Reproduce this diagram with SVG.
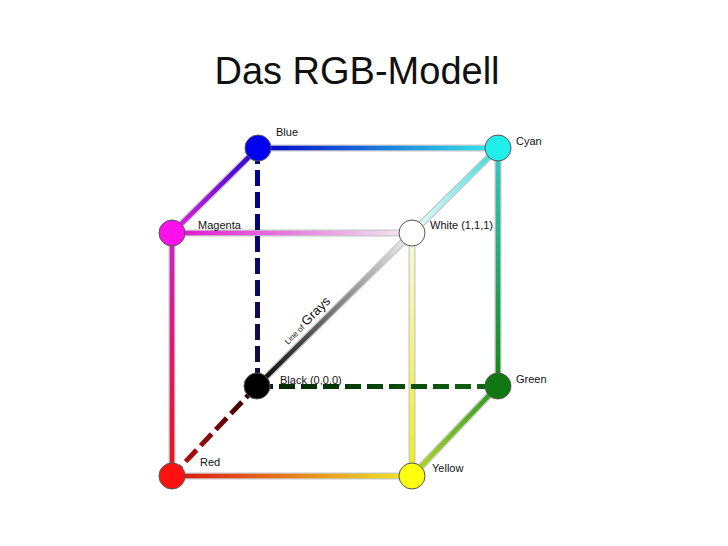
<svg xmlns="http://www.w3.org/2000/svg" width="728" height="546" viewBox="0 0 728 546">
<style>
text{font-family:"Liberation Sans",Arial,sans-serif;fill:#111}
.lb{font-size:11px}
.o{stroke:#c8c8c8;stroke-width:7;fill:none}
.e{stroke-width:4.5;fill:none}
.d{stroke-width:5;fill:none;stroke-dasharray:16,6}
.n{stroke:#555;stroke-width:1}
</style>
<defs>
<linearGradient id="gBC" gradientUnits="userSpaceOnUse" x1="258" y1="0" x2="498" y2="0"><stop offset="0" stop-color="#0000cc"/><stop offset="1" stop-color="#33eeee"/></linearGradient>
<linearGradient id="gMB" gradientUnits="userSpaceOnUse" x1="172" y1="233" x2="258" y2="148"><stop offset="0" stop-color="#ee22dd"/><stop offset="1" stop-color="#2200dd"/></linearGradient>
<linearGradient id="gMW" gradientUnits="userSpaceOnUse" x1="172" y1="0" x2="412" y2="0"><stop offset="0" stop-color="#dd11cc"/><stop offset="1" stop-color="#f4eef4"/></linearGradient>
<linearGradient id="gWC" gradientUnits="userSpaceOnUse" x1="412" y1="233" x2="498" y2="148"><stop offset="0" stop-color="#f0ffff"/><stop offset="1" stop-color="#33dddd"/></linearGradient>
<linearGradient id="gCG" gradientUnits="userSpaceOnUse" x1="0" y1="148" x2="0" y2="386"><stop offset="0" stop-color="#33cccc"/><stop offset="1" stop-color="#118811"/></linearGradient>
<linearGradient id="gMR" gradientUnits="userSpaceOnUse" x1="0" y1="233" x2="0" y2="476"><stop offset="0" stop-color="#cc22cc"/><stop offset="1" stop-color="#ee1111"/></linearGradient>
<linearGradient id="gRY" gradientUnits="userSpaceOnUse" x1="172" y1="0" x2="412" y2="0"><stop offset="0" stop-color="#dd1111"/><stop offset="1" stop-color="#eeee22"/></linearGradient>
<linearGradient id="gWY" gradientUnits="userSpaceOnUse" x1="0" y1="233" x2="0" y2="476"><stop offset="0" stop-color="#f8f8e0"/><stop offset="1" stop-color="#eeee11"/></linearGradient>
<linearGradient id="gYG" gradientUnits="userSpaceOnUse" x1="412" y1="476" x2="498" y2="386"><stop offset="0" stop-color="#bbdd22"/><stop offset="1" stop-color="#229922"/></linearGradient>
<linearGradient id="gKW" gradientUnits="userSpaceOnUse" x1="257" y1="386" x2="412" y2="233"><stop offset="0" stop-color="#000"/><stop offset="1" stop-color="#f4f4f4"/></linearGradient>
<linearGradient id="gBK" gradientUnits="userSpaceOnUse" x1="0" y1="148" x2="0" y2="386"><stop offset="0" stop-color="#000099"/><stop offset="1" stop-color="#111133"/></linearGradient>
<linearGradient id="gKG" gradientUnits="userSpaceOnUse" x1="257" y1="0" x2="498" y2="0"><stop offset="0" stop-color="#002200"/><stop offset="1" stop-color="#116611"/></linearGradient>
<linearGradient id="gKR" gradientUnits="userSpaceOnUse" x1="257" y1="386" x2="172" y2="476"><stop offset="0" stop-color="#220000"/><stop offset="1" stop-color="#cc1111"/></linearGradient>
</defs>
<rect width="728" height="546" fill="#fff"/>
<text x="357" y="84" text-anchor="middle" style="font-size:38px">Das RGB-Modell</text>
<g id="connectors">
<line class="o" x1="258" y1="148" x2="498" y2="148"/><line class="e" stroke="url(#gBC)" x1="258" y1="148" x2="498" y2="148"/>
<line class="o" x1="172" y1="233" x2="258" y2="148"/><line class="e" stroke="url(#gMB)" x1="172" y1="233" x2="258" y2="148"/>
<line class="o" x1="172" y1="233" x2="412" y2="233"/><line class="e" stroke="url(#gMW)" x1="172" y1="233" x2="412" y2="233"/>
<line class="o" x1="412" y1="233" x2="498" y2="148"/><line class="e" stroke="url(#gWC)" x1="412" y1="233" x2="498" y2="148"/>
<line class="o" x1="498" y1="148" x2="498" y2="386"/><line class="e" stroke="url(#gCG)" x1="498" y1="148" x2="498" y2="386"/>
<line class="o" x1="172" y1="233" x2="172" y2="476"/><line class="e" stroke="url(#gMR)" x1="172" y1="233" x2="172" y2="476"/>
<line class="o" x1="172" y1="476" x2="412" y2="476"/><line class="e" stroke="url(#gRY)" x1="172" y1="476" x2="412" y2="476"/>
<line class="o" x1="412" y1="233" x2="412" y2="476"/><line class="e" stroke="url(#gWY)" x1="412" y1="233" x2="412" y2="476"/>
<line class="o" x1="412" y1="476" x2="498" y2="386"/><line class="e" stroke="url(#gYG)" x1="412" y1="476" x2="498" y2="386"/>
<line class="o" x1="257" y1="386" x2="412" y2="233"/><line class="e" stroke="url(#gKW)" x1="257" y1="386" x2="412" y2="233"/>
<line class="d" stroke="url(#gBK)" x1="257.5" y1="148" x2="257.5" y2="386"/>
<line class="d" stroke="url(#gKG)" x1="257" y1="386.5" x2="498" y2="386.5"/>
<line class="d" stroke="url(#gKR)" x1="257" y1="386" x2="172" y2="476"/>
</g>
<g id="n-blue"><circle class="n" cx="258" cy="148" r="13" fill="#0000ee"/><text class="lb" x="276" y="136">Blue</text></g>
<g id="n-cyan"><circle class="n" cx="498" cy="148" r="13" fill="#22eeee"/><text class="lb" x="516" y="145">Cyan</text></g>
<g id="n-magenta"><circle class="n" cx="172" cy="233" r="13" fill="#ff11ee"/><text class="lb" x="198" y="229">Magenta</text></g>
<g id="n-white"><circle class="n" cx="412" cy="233" r="13" fill="#fff"/><text class="lb" x="430" y="229">White (1,1,1)</text></g>
<g id="n-black"><circle class="n" cx="257" cy="386" r="13" fill="#000"/><text class="lb" x="280" y="384">Black (0,0,0)</text></g>
<g id="n-green"><circle class="n" cx="498" cy="386" r="13" fill="#117711"/><text class="lb" x="516" y="383">Green</text></g>
<g id="n-red"><circle class="n" cx="172" cy="476" r="13" fill="#ff1111"/><text class="lb" x="200" y="466">Red</text></g>
<g id="n-yellow"><circle class="n" cx="412" cy="476" r="13" fill="#ffff11"/><text class="lb" x="432" y="472">Yellow</text></g>
<text transform="translate(288,345) rotate(-45)"><tspan style="font-size:8px">Line of </tspan><tspan style="font-size:13px">Grays</tspan></text>
</svg>
